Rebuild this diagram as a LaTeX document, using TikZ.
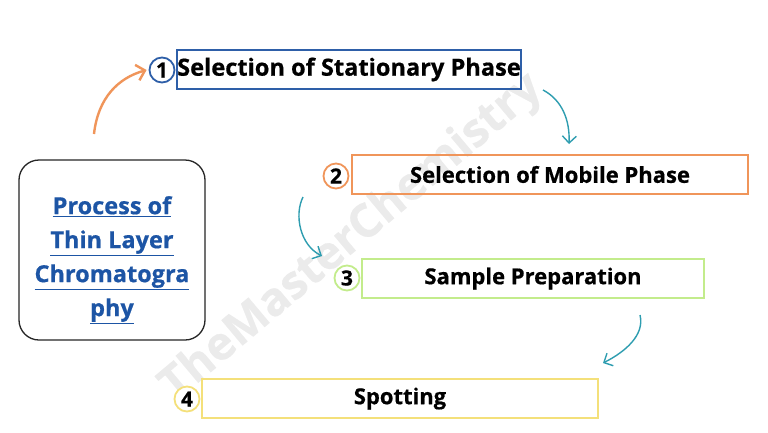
\documentclass[tikz,border=0pt]{standalone}
\usepackage{fontspec}
\setmainfont{Open Sans}
\newfontfamily\heavy[FakeBold=0.6]{Open Sans Bold}
\usetikzlibrary{arrows.meta}
\definecolor{cblue}{HTML}{2E5FA8}
\definecolor{corange}{HTML}{F0955A}
\definecolor{cgreen}{HTML}{C3EC8C}
\definecolor{cyellow}{HTML}{F4E07A}
\definecolor{cteal}{HTML}{2E9DB0}
\definecolor{ctitle}{HTML}{1D55A5}
\definecolor{cwater}{HTML}{EBEBEB}
\tikzset{
  stepbox/.style={draw, line width=1.5pt, minimum height=39pt, inner sep=0pt,
    font=\fontsize{22}{24}\heavy, text=black},
  numcirc/.style={circle, draw, line width=1.8pt, minimum size=25pt, inner sep=0pt,
    font=\fontsize{21}{22}\heavy, fill=white},
  flow/.style={line width=1.4pt, -{Straight Barb[length=7pt,width=14pt]}},
}
\begin{document}
\begin{tikzpicture}[x=1pt,y=-1pt]
\useasboundingbox (0,0) rectangle (768,432);
\fill[white] (0,0) rectangle (768,432);
% watermark
\node[rotate=40, text=cwater, font=\fontsize{46}{50}\heavy] (wm) at (352,238) {TheMasterChemistry};
% left title box
\node[draw=black!85, line width=1.3pt, rounded corners=20pt, minimum width=186pt, minimum height=180pt] (tlc) at (112,250) {};
\node[align=center, text=ctitle, font=\fontsize{23.5}{34}\heavy] (tlt) at (112,260)
  {\underline{Process of}\\ \underline{Thin Layer}\\ \underline{Chromatogra}\\ \underline{phy}};
% step boxes
\node[stepbox, draw=cblue, minimum width=342pt, font=\fontsize{23.6}{26}\heavy] (b1) at (349,69.5) {Selection of Stationary Phase};
\node[stepbox, draw=corange, minimum width=396pt] (b2) at (550,174.5) {Selection of Mobile Phase};
\node[stepbox, draw=cgreen, minimum width=342pt] (b3) at (533,278.5) {Sample Preparation};
\node[stepbox, draw=cyellow, minimum width=396pt] (b4) at (400,398.5) {Spotting};
% number circles
\node[numcirc, draw=cblue] (c1) at (162,70) {1};
\node[numcirc, draw=corange] (c2) at (336,176) {2};
\node[numcirc, draw=cgreen] (c3) at (347,278) {3};
\node[numcirc, draw=cyellow] (c4) at (187,399) {4};
% arrows
\coordinate (o1) at (94,134);
\coordinate (t1s) at (543,90);  \coordinate (t1e) at (569,144);
\coordinate (t2s) at (303,197); \coordinate (t2e) at (322,256);
\coordinate (t3s) at (640,315); \coordinate (t3e) at (603,363);
\draw[flow, draw=corange, line width=2.4pt, -{Straight Barb[length=8pt,width=16pt]}] (o1) .. controls (98,98) and (118,78) .. ([xshift=-2pt]c1.west);
\draw[flow, draw=cteal] (t1s) .. controls (562,100) and (570,120) .. (t1e);
\draw[flow, draw=cteal] (t2s) .. controls (294,215) and (300,245) .. (t2e);
\draw[flow, draw=cteal] (t3s) .. controls (645,335) and (625,352) .. (t3e);
\end{tikzpicture}
\end{document}
